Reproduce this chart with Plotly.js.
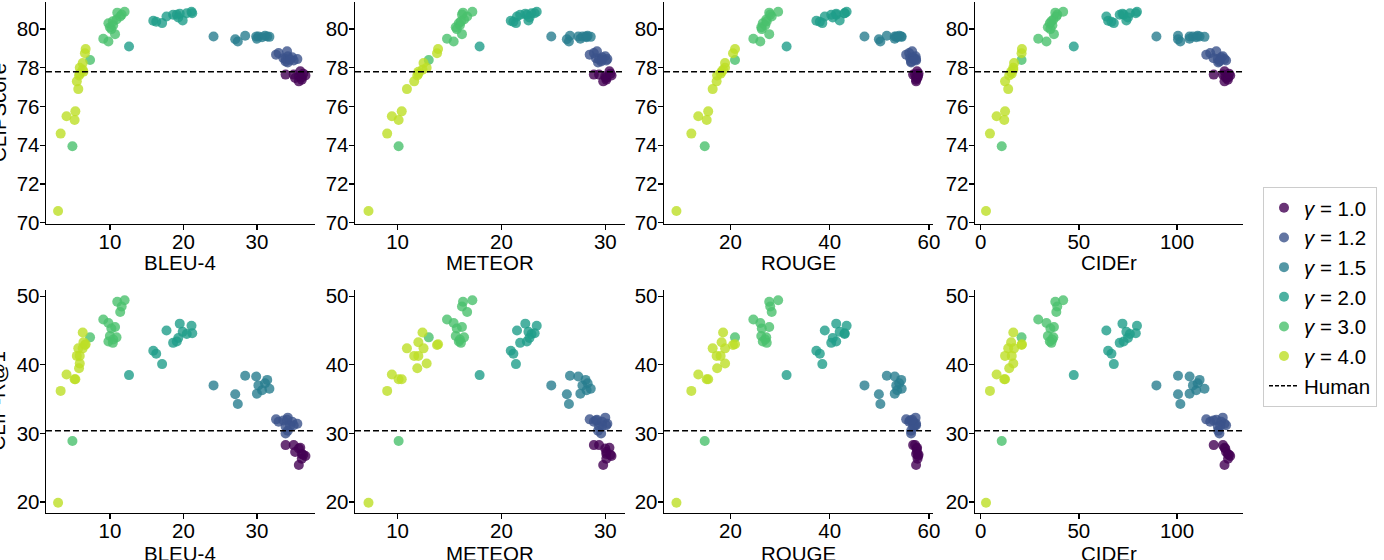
<!DOCTYPE html>
<html>
<head>
<meta charset="utf-8">
<script src="https://cdn.plot.ly/plotly-3.0.1.min.js"></script>
<style>html,body{margin:0;padding:0;background:#fff;}#chart{width:1384px;height:560px;}</style>
</head>
<body>
<div id="chart"></div>
<script>
// ---------------- DATA ----------------
const gammaLevels = [1.0, 1.2, 1.5, 2.0, 3.0, 4.0];
const metricNames = ['BLEU-4', 'METEOR', 'ROUGE', 'CIDEr'];
const yTitles = ['CLIPScore', 'CLIP-R@1'];
const humanClipScore = 77.8;
const humanClipR1 = 30.4;

const gamma = [
  1.0,1.0,1.0,1.0,1.0,1.0,1.0,1.0,1.0,1.0,
  1.2,1.2,1.2,1.2,1.2,1.2,1.2,1.2,1.2,1.2,1.2,1.2,
  1.5,1.5,1.5,1.5,1.5,1.5,1.5,1.5,1.5,1.5,1.5,
  2.0,2.0,2.0,2.0,2.0,2.0,2.0,2.0,2.0,2.0,2.0,2.0,2.0,
  3.0,3.0,3.0,3.0,3.0,3.0,3.0,3.0,3.0,3.0,3.0,3.0,3.0,3.0,3.0,
  4.0,4.0,4.0,4.0,4.0,4.0,4.0,4.0,4.0,4.0,4.0,4.0,4.0,4.0,4.0
];
const bleu4 = [
  33.9,35.0,35.7,36.1,35.9,36.6,35.7,35.2,36.1,36.3,
  32.6,32.95,33.6,33.9,34.2,34.8,35.0,35.5,33.9,34.2,34.5,34.1,
  24.1,27.05,27.4,28.4,29.9,31.4,30.0,30.7,31.7,30.2,31.1,
  12.6,15.9,16.3,17.1,17.7,18.6,19.1,19.5,19.9,20.45,21.1,21.2,19.3,
  4.9,7.3,9.1,9.8,10.7,10.0,9.8,10.45,10.9,11.4,11.6,11.0,12.0,10.2,10.4,
  2.95,3.3,4.1,5.2,5.3,5.7,5.5,5.9,6.3,6.3,5.9,6.6,6.7,5.8,6.4
];
const meteor = [
  28.9,29.4,30.0,30.1,30.4,30.6,29.8,30.1,30.1,30.5,
  28.5,28.9,29.1,29.4,30.0,29.7,30.1,30.2,29.6,29.3,29.7,29.2,
  24.8,26.3,26.5,26.6,27.4,28.1,27.6,28.2,28.6,27.8,28.3,
  17.9,20.9,21.15,21.4,21.5,21.8,22.45,22.3,22.6,22.9,23.4,23.2,22.7,
  10.1,13.0,14.76,15.4,16.2,15.6,15.9,16.0,16.4,16.7,16.2,16.3,17.2,15.7,16.1,
  7.2,9.0,9.45,10.1,10.4,10.9,11.6,12.0,12.4,12.5,12.8,13.8,13.9,11.9,12.0
];
const rouge = [
  56.8,57.2,57.5,57.4,57.6,57.8,57.4,57.6,57.7,57.9,
  55.4,56.0,56.2,56.8,57.3,56.8,57.4,57.4,56.4,56.4,57.1,56.6,
  47.0,49.9,50.2,51.5,53.1,54.4,53.1,53.6,54.5,53.4,54.0,
  31.3,37.3,38.0,38.5,39.0,40.3,41.3,41.3,42.0,43.0,43.4,43.0,40.6,
  14.8,20.9,24.6,26.0,27.8,26.2,26.5,27.0,27.2,28.3,28.0,27.8,29.6,26.3,27.3,
  9.1,12.1,13.5,15.2,15.5,16.4,17.2,18.0,18.5,18.9,18.9,20.5,20.9,17.3,18.2
];
const cider = [
  118.7,123.4,124.6,125.9,124.2,127.1,124.2,125.0,126.0,126.5,
  114.9,116.9,118.6,120.8,123.3,122.5,125.0,124.2,121.6,121.0,122.0,120.0,
  89.5,100.5,101.7,100.5,106.4,111.5,106.4,109.8,114.0,108.1,110.5,
  47.4,64.9,66.6,67.8,64.0,70.8,72.8,72.2,74.2,76.0,79.6,79.0,75.0,
  10.7,20.8,29.3,33.5,37.3,34.2,35.2,36.5,37.0,38.5,39.0,38.0,42.0,35.5,36.0,
  2.7,4.7,8.1,12.0,12.4,14.0,12.4,15.8,16.6,17.0,16.6,20.8,21.0,14.5,15.5
];
const clipScore = [
  77.65,77.65,77.56,77.39,77.82,77.6,77.3,77.47,77.5,77.7,
  78.68,78.76,78.5,78.45,78.6,78.55,78.38,78.45,78.33,78.28,78.42,78.85,
  79.62,79.48,79.36,79.66,79.62,79.62,79.5,79.58,79.6,79.62,79.66,
  79.1,80.43,80.38,80.31,80.65,80.74,80.74,80.8,80.45,80.82,80.9,80.82,80.6,
  73.95,78.4,79.5,79.36,79.74,80.1,80.3,80.2,80.5,80.65,80.75,80.85,80.9,80.0,80.4,
  70.6,74.6,75.5,75.3,75.75,76.9,77.3,77.7,77.9,78.25,78.0,78.75,78.97,77.6,77.8
];
const clipR1 = [
  28.3,28.3,27.8,27.0,27.9,26.7,25.4,27.3,26.3,26.9,
  32.05,31.7,31.9,31.0,32.3,31.7,31.2,31.4,30.0,30.4,31.1,32.0,
  37.0,35.7,34.3,38.4,38.3,37.8,35.8,36.3,36.5,37.0,37.3,
  38.5,42.06,41.6,40.1,45.0,43.2,43.4,46.0,44.8,44.5,45.7,44.6,43.9,
  28.9,44.0,46.6,46.1,45.5,44.2,43.4,43.7,44.0,47.7,48.5,49.2,49.4,45.3,43.2,
  19.9,36.2,38.6,37.9,37.9,42.4,41.3,41.3,44.7,42.4,40.2,42.9,43.0,39.5,43.3
];
const xTickVals = [[10,20,30],[10,20,30],[20,40,60],[0,50,100]];
const yTickVals = [[70,72,74,76,78,80],[20,30,40,50]];

// ---------------- STYLE / LAYOUT ----------------
const gammaColors = ['#440154','#3b528b','#287d8e','#1f9e89','#4ac16d','#bddf26'];
const xRanges = [[1.3,37.9],[5.9,31.9],[6.6,60.8],[-2.9,133.6]];
const yRanges = [[69.93,81.4],[18.4,50.9]];
const colDomains = [[0.0332,0.2276],[0.2565,0.4516],[0.4798,0.6741],[0.7045,0.8981]];
const rowDomains = [[0.6,0.9964],[0.0839,0.4821]];
const FONT = 'Liberation Sans, Arial, Helvetica, sans-serif';
const FS = 20.5;
const W = 1384, H = 560;

const xData = [bleu4, meteor, rouge, cider];
const yData = [clipScore, clipR1];
const humanVals = [humanClipScore, humanClipR1];

const traces = [];
const layout = {
  width: W, height: H,
  margin: {l:0, r:0, t:0, b:0},
  paper_bgcolor: '#fff', plot_bgcolor: '#fff',
  font: {family: FONT, size: FS, color: '#000'},
  showlegend: true,
  legend: {
    x: 1263/W, y: 1 - 187/H, xanchor: 'left', yanchor: 'top',
    bgcolor: '#fff', bordercolor: '#cccccc', borderwidth: 1,
    font: {family: FONT, size: FS, color: '#000'},
    tracegroupgap: 0
  },
  shapes: [], annotations: []
};

for (let r = 0; r < 2; r++) {
  for (let c = 0; c < 4; c++) {
    const n = r*4 + c + 1;
    const sfx = n === 1 ? '' : String(n);
    gammaLevels.forEach((g, gi) => {
      const idx = gamma.map((v, i) => v === g ? i : -1).filter(i => i >= 0);
      traces.push({
        type: 'scatter', mode: 'markers',
        x: idx.map(i => xData[c][i]),
        y: idx.map(i => yData[r][i]),
        xaxis: 'x' + sfx, yaxis: 'y' + sfx,
        name: '<i>γ</i> = ' + g.toFixed(1),
        legendgroup: 'g' + gi,
        showlegend: n === 1,
        marker: {color: gammaColors[gi], size: 10, opacity: 0.8, line: {width: 0}},
        hoverinfo: 'x+y'
      });
    });
    const axCommon = {
      showline: true, linecolor: '#000', linewidth: 1.4,
      ticks: 'outside', ticklen: 5, tickwidth: 1.3, tickcolor: '#000',
      showgrid: false, zeroline: false, mirror: false,
      tickfont: {family: FONT, size: FS, color: '#000'},
      automargin: false, fixedrange: true
    };
    layout['xaxis' + sfx] = Object.assign({}, axCommon, {
      domain: colDomains[c], range: xRanges[c], anchor: 'y' + sfx,
      tickmode: 'array', tickvals: xTickVals[c], ticklabelstandoff: -6
    });
    layout['yaxis' + sfx] = Object.assign({}, axCommon, {
      domain: rowDomains[r], range: yRanges[r], anchor: 'x' + sfx,
      tickmode: 'array', tickvals: yTickVals[r], ticklabelstandoff: -4
    });
    layout.shapes.push({
      type: 'line', xref: 'x' + sfx + ' domain', yref: 'y' + sfx,
      x0: 0, x1: 1, y0: humanVals[r], y1: humanVals[r],
      line: {color: '#000', width: 1.4, dash: '6px,3px'}
    });
    // x-axis title
    layout.annotations.push({
      xref: 'paper', yref: 'paper',
      x: (colDomains[c][0] + colDomains[c][1]) / 2,
      y: r === 0 ? 1 - 262/H : 1 - 553/H,
      xanchor: 'center', yanchor: 'middle',
      text: metricNames[c], showarrow: false,
      font: {family: FONT, size: FS, color: '#000'}
    });
  }
  // y-axis title (first column only)
  layout.annotations.push({
    xref: 'paper', yref: 'paper',
    x: -2/W, y: (rowDomains[r][0] + rowDomains[r][1]) / 2,
    xanchor: 'center', yanchor: 'middle', textangle: -90,
    text: yTitles[r], showarrow: false,
    font: {family: FONT, size: FS, color: '#000'}
  });
}

traces.push({
  type: 'scatter', mode: 'lines', x: [null], y: [null],
  name: 'Human', showlegend: true,
  line: {color: '#000', width: 1.4, dash: '4px,2px'},
  hoverinfo: 'skip'
});

Plotly.newPlot('chart', traces, layout, {displayModeBar: false, staticPlot: true});
</script>
</body>
</html>
